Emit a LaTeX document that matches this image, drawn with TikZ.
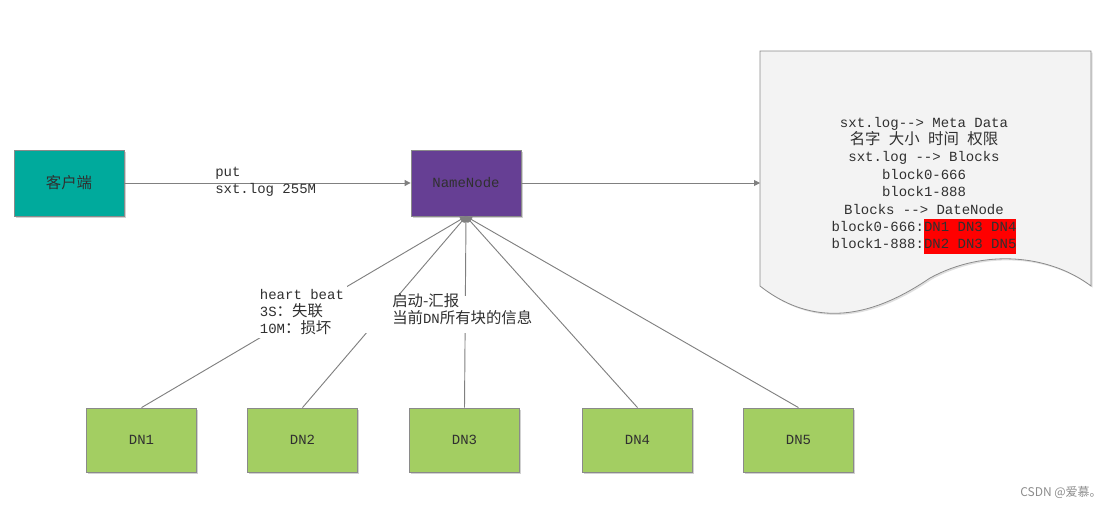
\documentclass[tikz,border=0pt]{standalone}
\usepackage{fontspec}
\setmainfont{Liberation Mono}[Ligatures=TeXOff]
\newfontfamily\cjk[Scale=1.1]{Noto Sans CJK SC}
\newfontfamily\wmfont{Noto Sans CJK SC}
\usetikzlibrary{arrows.meta,shadows}
\definecolor{txt}{HTML}{303030}
\definecolor{edge}{HTML}{808080}
\definecolor{boxline}{HTML}{8A8A8A}
\definecolor{clientc}{HTML}{00AA9C}
\definecolor{nnc}{HTML}{663F94}
\definecolor{dnc}{HTML}{A3CE62}
\definecolor{docc}{HTML}{F3F3F3}
\definecolor{hlred}{HTML}{FF0000}
\newcommand{\hlred}[1]{{\setlength{\fboxsep}{0pt}\colorbox{hlred}{\rule[-4pt]{0pt}{13.05pt}#1}}}
\tikzset{
  every node/.style={font=\fontsize{10.5}{13.05}\selectfont, text=txt},
  boxstyle/.style={draw=boxline, line width=0.6pt, minimum width=82.5pt, minimum height=48pt,
    drop shadow={shadow xshift=1.2pt, shadow yshift=-1.2pt, fill=black!30, opacity=0.6}},
  conn/.style={draw=edge, line width=0.7pt, -{Triangle[length=4.5pt,width=4.5pt]}},
  lbl/.style={fill=white, align=left, inner sep=2pt},
}
\begin{document}
\begin{tikzpicture}[x=0.75pt, y=-0.75pt]
\useasboundingbox (0,0) rectangle (1114,508);

% document shape
\path[draw=boxline, line width=0.6pt, fill=docc,
  drop shadow={shadow xshift=1.2pt, shadow yshift=-1.2pt, fill=black!25, opacity=0.5}]
  (760,51) -- (1091,51) -- (1091,286)
  .. controls (1050,255) and (985,248) .. (930,278)
  .. controls (880,312) and (820,333) .. (760,286) -- cycle;
\coordinate (docin) at (760,183);
\node[align=center, inner sep=0pt] (doctext) at (924,185.5) {%
sxt.log--> Meta Data\\
{\cjk 名字} {\cjk 大小} {\cjk 时间} {\cjk 权限}\\
sxt.log --> Blocks\\
block0-666\\
block1-888\\
Blocks --> DateNode\\
block0-666:\hlred{DN1 DN3 DN4}\\
block1-888:\hlred{DN2 DN3 DN5}};

% main boxes
\node[boxstyle, fill=clientc, minimum height=49.5pt] (client) at (69,183) {{\cjk 客户端}};
\node[boxstyle, fill=nnc, minimum height=49.5pt] (nn) at (466,183) {NameNode};

\node[boxstyle, fill=dnc] (dn1) at (141.5,440) {DN1};
\node[boxstyle, fill=dnc] (dn2) at (302.5,440) {DN2};
\node[boxstyle, fill=dnc] (dn3) at (464.5,440) {DN3};
\node[boxstyle, fill=dnc] (dn4) at (637.5,440) {DN4};
\node[boxstyle, fill=dnc] (dn5) at (798.5,440) {DN5};

% connectors
\draw[conn] (client.east) -- (nn.west);
\draw[conn] (nn.east) -- (docin);
\foreach \d in {dn1,dn2,dn3,dn4,dn5}{
  \draw[conn] (\d.north) -- (nn.south);
}

% labels
\node[align=left, inner sep=0pt, anchor=north west] (putlbl) at (215,167) {put\\[-0.6pt]sxt.log 255M};

\node[lbl, anchor=north west] (hb) at (257,286) {heart beat\\3S{\cjk ：失联}\\10M{\cjk ：损坏}};

\fill[white] (360,296) rectangle (533,333);
\node[align=left, inner sep=0pt, anchor=north west] (startlbl) at (392,293) {{\cjk 启动-汇报}\\{\cjk 当前}DN{\cjk 所有块的信息}};

\node[anchor=east, inner sep=0pt, font=\wmfont\fontsize{9}{11}\selectfont, text=black!45] (wm) at (1102,492) {CSDN @爱慕。};
\end{tikzpicture}
\end{document}
